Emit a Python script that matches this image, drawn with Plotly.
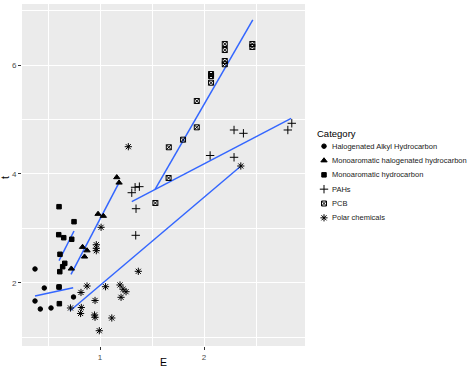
import plotly.graph_objects as go

categories = ["Halogenated Alkyl Hydrocarbon", "Monoaromatic halogenated hydrocarbon",
              "Monoaromatic hydrocarbon", "PAHs", "PCB", "Polar chemicals"]

halo_x = [0.375, 0.464, 0.375, 0.426, 0.529, 0.745, 0.606]
halo_y = [2.254, 1.904, 1.665, 1.518, 1.537, 1.739, 1.923]

monohal_x = [1.161, 1.183, 0.981, 1.032, 0.832, 0.875, 0.851, 0.724]
monohal_y = [3.939, 3.840, 3.265, 3.228, 2.658, 2.594, 2.480, 2.259]

mono_x = [0.606, 0.750, 0.603, 0.651, 0.728, 0.615, 0.661, 0.641, 0.613, 0.606, 0.609]
mono_y = [3.399, 3.123, 2.884, 2.829, 2.800, 2.524, 2.358, 2.296, 2.204, 1.923, 1.616]

pah_x = [1.337, 1.378, 1.305, 1.346, 1.343, 2.058, 2.288, 2.378, 2.288, 2.805, 2.843]
pah_y = [3.756, 3.767, 3.656, 3.362, 2.873, 4.340, 4.809, 4.748, 4.307, 4.809, 4.932]

pcb_x = [2.199, 2.199, 2.464, 2.464, 2.199, 2.199, 2.067, 2.067, 2.067, 1.930, 1.930, 1.798, 1.661, 1.659, 1.532]
pcb_y = [6.390, 6.279, 6.390, 6.335, 6.077, 6.017, 5.838, 5.801, 5.678, 5.342, 4.858, 4.631, 4.491, 3.926, 3.467]

polar_x = [0.716, 0.817, 0.820, 0.813, 0.875, 0.952, 0.947, 0.952, 0.993, 1.053, 1.113,
           1.192, 1.221, 1.250, 1.202, 1.368, 0.964, 0.964, 0.964, 1.010, 1.272, 2.353]
polar_y = [1.537, 1.822, 1.546, 1.436, 1.941, 1.675, 1.408, 1.366, 1.119, 1.928, 1.353,
           1.960, 1.881, 1.836, 1.733, 2.211, 2.700, 2.634, 2.590, 3.020, 4.502, 4.147]

# fitted (lm) lines: [x_start, x_end], [y_start, y_end]
fit_halo = ([0.375, 0.742], [1.757, 1.910])
fit_mono = ([0.606, 0.750], [2.406, 2.952])
fit_monohal = ([0.721, 1.183], [2.156, 3.840])
fit_pah = ([1.305, 2.837], [3.491, 5.024])
fit_pcb = ([1.529, 2.468], [3.719, 6.831])
fit_polar = ([0.712, 2.346], [1.487, 4.134])

x_ticks = [1, 2]
y_ticks = [2, 4, 6]
x_minor = [0.5, 1.5, 2.5]
y_minor = [1, 3, 5, 7]

FONT = "Liberation Sans, Arial, sans-serif"
W, H = 474, 370

symbols = ["circle", "triangle-up", "square", "cross-thin-open", "square-x-open", "asterisk-open"]
sizes = [4.5, 5.5, 4.5, 6, 5, 6]
data = [(halo_x, halo_y), (monohal_x, monohal_y), (mono_x, mono_y),
        (pah_x, pah_y), (pcb_x, pcb_y), (polar_x, polar_y)]

fig = go.Figure()
for fx, fy in [fit_halo, fit_mono, fit_monohal, fit_pah, fit_pcb, fit_polar]:
    fig.add_trace(go.Scatter(x=fx, y=fy, mode="lines", showlegend=False,
                             line=dict(color="#3366FF", width=1.5), hoverinfo="skip"))

for name, (xs, ys), sym, sz in zip(categories, data, symbols, sizes):
    fig.add_trace(go.Scatter(
        x=xs, y=ys, mode="markers", name=name, showlegend=False,
        marker=dict(symbol=sym, size=sz, color="black",
                    line=dict(color="black", width=1)),
    ))

# legend keys (drawn on a small auxiliary axis placed in the legend area)
idx = list(range(len(categories)))
for i, sym, sz in zip(idx, symbols, sizes):
    fig.add_trace(go.Scatter(
        x=[0.5], y=[i], mode="markers", xaxis="x2", yaxis="y2", showlegend=False,
        marker=dict(symbol=sym, size=sz, color="black", line=dict(color="black", width=1)),
        hoverinfo="skip",
    ))
annotations = []
for i, name in zip(idx, categories):
    annotations.append(dict(x=0.9, y=i, xref="x2", yref="y2", text=name, showarrow=False,
                            xanchor="left", yanchor="middle",
                            font=dict(family=FONT, size=7.5, color="#1a1a1a")))
annotations.append(dict(x=315 / W, y=1 - 133 / H, xref="paper", yref="paper", text="Category",
                        showarrow=False, xanchor="left", yanchor="middle",
                        font=dict(family=FONT, size=9.5, color="black")))
annotations.append(dict(x=163 / W, y=1 - 362 / H, xref="paper", yref="paper", text="E",
                        showarrow=False, xanchor="center", yanchor="middle",
                        font=dict(family=FONT, size=10.5, color="black")))
annotations.append(dict(x=5 / W, y=1 - 178 / H, xref="paper", yref="paper", text="t",
                        showarrow=False, xanchor="center", yanchor="middle", textangle=-90,
                        font=dict(family=FONT, size=10.5, color="black")))

fig.update_layout(
    width=W, height=H,
    margin=dict(l=0, r=0, t=0, b=0),
    paper_bgcolor="white", plot_bgcolor="white",
    font=dict(family=FONT, size=8, color="#4D4D4D"),
    showlegend=False,
    annotations=annotations,
    shapes=[dict(type="rect", xref="paper", yref="paper",
                 x0=22 / W, x1=305 / W, y0=1 - 346 / H, y1=1 - 4 / H,
                 fillcolor="#EBEBEB", line=dict(width=0), layer="below")],
    xaxis2=dict(domain=[316 / W, 332 / W], range=[0, 1], visible=False, fixedrange=True),
    yaxis2=dict(domain=[1 - 225 / H, 1 - 139 / H], range=[5.5, -0.5], visible=False,
                anchor="x2", fixedrange=True),
    xaxis=dict(
        domain=[22 / W, 305 / W], range=[0.25, 2.97], tickvals=x_ticks,
        ticktext=[str(v) for v in x_ticks], automargin=False,
        showgrid=True, gridcolor="white", gridwidth=1.1, zeroline=False,
        ticks="outside", ticklen=3, tickcolor="#333333",
        tickfont=dict(size=8, color="#4D4D4D"),
        minor=dict(tickvals=x_minor, showgrid=True, gridcolor="white", gridwidth=0.5, ticks=""),
        showline=False, anchor="y",
    ),
    yaxis=dict(
        domain=[1 - 346 / H, 1 - 4 / H], range=[0.838, 7.125], tickvals=y_ticks,
        ticktext=[str(v) for v in y_ticks], automargin=False,
        showgrid=True, gridcolor="white", gridwidth=1.1, zeroline=False,
        ticks="outside", ticklen=3, tickcolor="#333333",
        tickfont=dict(size=8, color="#4D4D4D"),
        minor=dict(tickvals=y_minor, showgrid=True, gridcolor="white", gridwidth=0.5, ticks=""),
        showline=False, anchor="x",
    ),
)

fig.write_html("out.html", config={"displayModeBar": False},
               post_script="document.body.style.margin='0';")
